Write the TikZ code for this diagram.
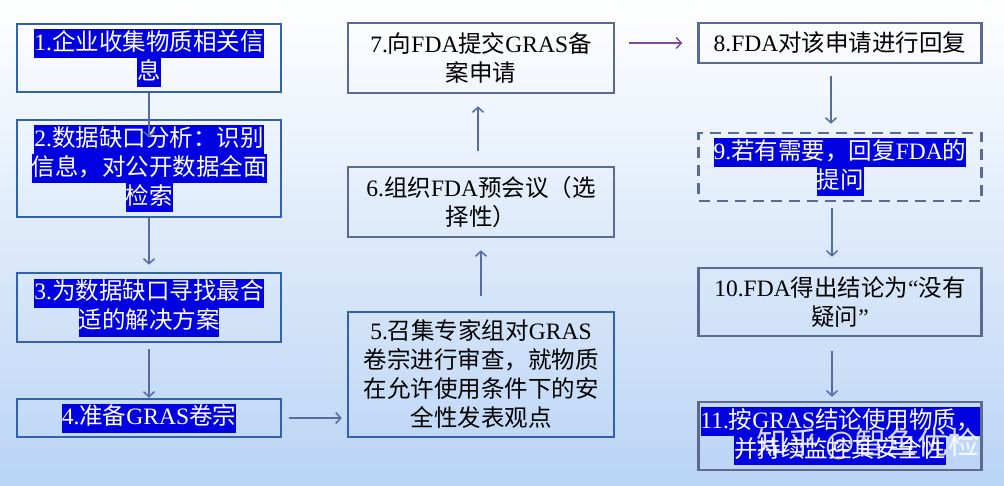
\documentclass[tikz,border=0pt]{standalone}
\usepackage{fontspec}
\setmainfont{Liberation Serif}
\newfontfamily\cjk{Noto Sans CJK SC}
\newfontfamily\latfont{Liberation Serif}
\usetikzlibrary{arrows.meta}
\definecolor{hlblue}{RGB}{0,0,225}
\definecolor{borderblue}{RGB}{50,98,168}
\definecolor{borderslate}{RGB}{92,106,146}
\definecolor{connc}{RGB}{84,108,160}
\definecolor{connpurple}{RGB}{122,78,154}
\definecolor{bgmid}{RGB}{228,237,251}
\definecolor{bgbot}{RGB}{186,212,245}
\newcommand\latn[1]{{\latfont #1}}
\newcommand\hlline[1]{{\setlength\fboxsep{0pt}\colorbox{hlblue}{\vrule height 21pt depth 8pt width 0pt\relax #1}}}
\newcommand\hlfull[1]{{\setlength\fboxsep{0pt}\colorbox{hlblue}{\makebox[279pt]{\vrule height 21pt depth 8pt width 0pt\relax #1}}}}
\tikzset{
  basebox/.style={rectangle, inner sep=0pt, line width=2.6pt, align=center,
    font=\fontsize{23.5}{29}\selectfont\cjk, text=black},
  bluebox/.style={basebox, draw=borderblue},
  slatebox/.style={basebox, draw=borderslate},
  hltext/.style={text=white},
  conn/.style={draw=connc, line width=1.5pt, -{Straight Barb[length=5pt,width=11pt]}},
  pconn/.style={conn, draw=connpurple},
}
\begin{document}
\begin{tikzpicture}[x=1pt,y=-1pt]
\useasboundingbox (0,0) rectangle (1004,485);
\shade[top color=white, middle color=bgmid, bottom color=bgbot] (0,0) rectangle (1004,485);

% left column
\node[bluebox, hltext, minimum width=264pt, minimum height=68pt] (b1) at (149,58)
  {\hlline{\latn{1.}企业收集物质相关信}\\\hlline{息}};
\node[bluebox, hltext, minimum width=264pt, minimum height=97pt] (b2) at (149,168.5)
  {\hlline{\latn{2.}数据缺口分析：识别}\\\hlline{信息，对公开数据全面}\\\hlline{检索}};
\node[bluebox, hltext, minimum width=264pt, minimum height=69pt] (b3) at (149,307.5)
  {\hlline{\latn{3.}为数据缺口寻找最合}\\\hlline{适的解决方案}};
\node[bluebox, hltext, minimum width=264pt, minimum height=38pt] (b4) at (149,418)
  {\hlline{\latn{4.}准备\latn{GRAS}卷宗}};

% middle column
\node[bluebox, minimum width=266pt, minimum height=125pt] (b5) at (481,374.5)
  {\latn{5.}召集专家组对\latn{GRAS}\\卷宗进行审查，就物质\\在允许使用条件下的安\\全性发表观点};
\node[slatebox, minimum width=266pt, minimum height=70pt] (b6) at (481,202)
  {\latn{6.}组织\latn{FDA}预会议（选\\择性）};
\node[slatebox, minimum width=266pt, minimum height=70pt] (b7) at (481,58)
  {\latn{7.}向\latn{FDA}提交\latn{GRAS}备\\案申请};

% right column
\node[slatebox, minimum width=283pt, minimum height=40pt] (b8) at (840,43)
  {\latn{8.FDA}对该申请进行回复};
\node[slatebox, dash pattern=on 11pt off 7pt, hltext, minimum width=283pt, minimum height=68pt] (b9) at (840,167)
  {\hlline{\latn{9.}若有需要，回复\latn{FDA}的}\\\hlline{提问}};
\node[slatebox, minimum width=283pt, minimum height=68pt] (b10) at (840,302)
  {\latn{10.FDA}得出结论为\latn{“}没有\\疑问\latn{”}};
\node[slatebox, hltext, minimum width=283pt, minimum height=68pt] (b11) at (840,436)
  {\hlfull{\latn{11.}按\latn{GRAS}结论使用物质，}\\\hlline{并持续监控其安全性}};

% connectors
\draw[conn, shorten >=-19pt] (b1) -- (b2);
\draw[conn, shorten >=7pt] (b2) -- (b3);
\draw[conn, shorten <=6pt] (b3) -- (b4);
\draw[conn, shorten <=7pt, shorten >=5pt] (b4.east) -- (b5.west |- b4.east);
\draw[conn, shorten <=15pt, shorten >=12pt] (b5) -- (b6);
\draw[conn, shorten <=15pt, shorten >=12pt] (b6.north -| 478,0) -- (b7.south -| 478,0);
\draw[pconn, shorten <=14pt, shorten >=15pt] (b7.east |- b8.west) -- (b8.west);
\draw[conn, shorten <=12pt, shorten >=8pt] (b8.south -| 831,0) -- (b9.north -| 831,0);
\draw[conn, shorten <=6pt, shorten >=10pt] (b9.south -| 832,0) -- (b10.north -| 832,0);
\draw[conn, shorten <=14pt, shorten >=4pt] (b10.south -| 832,0) -- (b11.north -| 832,0);

% watermark
\node[text=white, opacity=0.85, font=\fontsize{31}{31}\selectfont\cjk, inner sep=0pt] (wm) at (868,444) {知乎 @智鱼优检};
\end{tikzpicture}
\end{document}
